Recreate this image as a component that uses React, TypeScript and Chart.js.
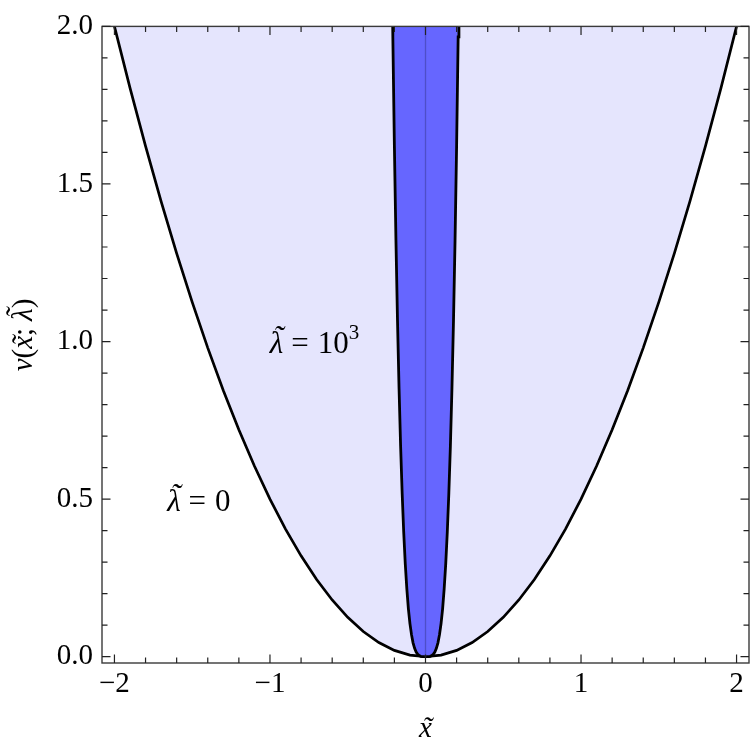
import React, { useEffect, useRef } from "react";
import { Chart, registerables } from "chart.js";

Chart.register(...registerables);

// ---- tick values ----
const xMajorTicks = [-2, -1, 0, 1, 2];
const yMajorTicks = [0, 0.5, 1.0, 1.5, 2.0];
const xMinorTicks = [-2.0, -1.8, -1.6, -1.4, -1.2, -1.0, -0.8, -0.6, -0.4, -0.2, 0, 0.2, 0.4, 0.6, 0.8, 1.0, 1.2, 1.4, 1.6, 1.8, 2.0];
const yMinorTicks = [0.1, 0.2, 0.3, 0.4, 0.6, 0.7, 0.8, 0.9, 1.1, 1.2, 1.3, 1.4, 1.6, 1.7, 1.8, 1.9];

// ---- series: lambda = 0 (outer curve) ----
const outerX = [-2.08, -2.0, -1.9, -1.8, -1.7, -1.6, -1.5, -1.4, -1.3, -1.2, -1.1, -1.0, -0.9, -0.8, -0.7, -0.6, -0.5, -0.4, -0.3, -0.2, -0.1, 0, 0.1, 0.2, 0.3, 0.4, 0.5, 0.6, 0.7, 0.8, 0.9, 1.0, 1.1, 1.2, 1.3, 1.4, 1.5, 1.6, 1.7, 1.8, 1.9, 2.0, 2.08];
const outerV = [2.163, 2.0, 1.805, 1.62, 1.445, 1.28, 1.125, 0.98, 0.845, 0.72, 0.605, 0.5, 0.405, 0.32, 0.245, 0.18, 0.125, 0.08, 0.045, 0.02, 0.005, 0, 0.005, 0.02, 0.045, 0.08, 0.125, 0.18, 0.245, 0.32, 0.405, 0.5, 0.605, 0.72, 0.845, 0.98, 1.125, 1.28, 1.445, 1.62, 1.805, 2.0, 2.163];

// ---- series: lambda = 10^3 (inner curve) ----
const innerX = [-0.215, -0.21, -0.2, -0.19, -0.18, -0.17, -0.16, -0.15, -0.14, -0.13, -0.12, -0.11, -0.1, -0.09, -0.08, -0.07, -0.06, -0.05, -0.04, -0.03, -0.02, -0.01, 0, 0.01, 0.02, 0.03, 0.04, 0.05, 0.06, 0.07, 0.08, 0.09, 0.1, 0.11, 0.12, 0.13, 0.14, 0.15, 0.16, 0.17, 0.18, 0.19, 0.2, 0.21, 0.215];
const innerV = [2.16, 1.967, 1.62, 1.321, 1.066, 0.85, 0.668, 0.518, 0.394, 0.294, 0.215, 0.152, 0.105, 0.07, 0.044, 0.0265, 0.0148, 0.0075, 0.0034, 0.0013, 0.0004, 0.0001, 0, 0.0001, 0.0004, 0.0013, 0.0034, 0.0075, 0.0148, 0.0265, 0.044, 0.07, 0.105, 0.152, 0.215, 0.294, 0.394, 0.518, 0.668, 0.85, 1.066, 1.321, 1.62, 1.967, 2.16];

// ---- centre line ----
const centerX = [0, 0];
const centerV = [0, 2.0];

const SERIF = "'Liberation Serif', 'DejaVu Serif', serif";

type Run = { t: string; f: string; dy?: number; tilde?: number; gap?: number; size?: number };

function drawRuns(ctx: CanvasRenderingContext2D, runs: Run[], cx: number, baseY: number) {
  let total = 0;
  for (const r of runs) {
    ctx.font = r.f;
    total += ctx.measureText(r.t).width + (r.gap || 0);
  }
  let x = cx - total / 2;
  ctx.textAlign = "left";
  ctx.textBaseline = "alphabetic";
  for (const r of runs) {
    ctx.font = r.f;
    const w = ctx.measureText(r.t).width;
    ctx.fillText(r.t, x, baseY + (r.dy || 0));
    if (r.tilde !== undefined) {
      const tw = ctx.measureText("\u02DC").width;
      ctx.fillText("\u02DC", x + w / 2 - tw / 2 + (r.size || 0) * 0.06, baseY + r.tilde);
    }
    x += w + (r.gap || 0);
  }
}

const framePlugin = {
  id: "frameTicks",
  afterDraw(chart: any) {
    const { ctx, chartArea: a, scales } = chart;
    const xs = scales.x;
    const ys = scales.y;
    ctx.save();
    ctx.strokeStyle = "#3a3a3a";
    ctx.lineWidth = 1.4;
    ctx.strokeRect(a.left, a.top, a.right - a.left, a.bottom - a.top);
    ctx.strokeStyle = "#222";
    ctx.lineWidth = 1.2;
    const MAJ = 8.5;
    const MIN = 5.5;
    ctx.beginPath();
    for (const v of xMinorTicks) {
      const len = xMajorTicks.includes(v) ? MAJ : MIN;
      const p = xs.getPixelForValue(v);
      ctx.moveTo(p, a.bottom);
      ctx.lineTo(p, a.bottom - len);
      ctx.moveTo(p, a.top);
      ctx.lineTo(p, a.top + len);
    }
    for (const v of [...yMajorTicks, ...yMinorTicks]) {
      const len = yMajorTicks.includes(v) ? MAJ : MIN;
      const p = ys.getPixelForValue(v);
      ctx.moveTo(a.left, p);
      ctx.lineTo(a.left + len, p);
      ctx.moveTo(a.right, p);
      ctx.lineTo(a.right - len, p);
    }
    ctx.stroke();

    ctx.fillStyle = "#000";
    const A = 31;
    // annotations
    drawRuns(
      ctx,
      [
        { t: "\u03BB", f: `italic ${A}px ${SERIF}`, tilde: -0.2 * A, size: A, gap: 8 },
        { t: "=", f: `${A}px ${SERIF}`, gap: 9 },
        { t: "10", f: `${A}px ${SERIF}` },
        { t: "3", f: `${Math.round(A * 0.68)}px ${SERIF}`, dy: -0.45 * A },
      ],
      xs.getPixelForValue(-0.714),
      ys.getPixelForValue(0.963)
    );
    drawRuns(
      ctx,
      [
        { t: "\u03BB", f: `italic ${A}px ${SERIF}`, tilde: -0.2 * A, size: A, gap: 8 },
        { t: "=", f: `${A}px ${SERIF}`, gap: 9 },
        { t: "0", f: `${A}px ${SERIF}` },
      ],
      xs.getPixelForValue(-1.457),
      ys.getPixelForValue(0.461)
    );
    const T = 29;
    // x axis title
    drawRuns(ctx, [{ t: "x", f: `italic ${T}px ${SERIF}`, tilde: 0, size: T }], (a.left + a.right) / 2, 737);
    // y axis title
    ctx.translate(32, 335);
    ctx.rotate(-Math.PI / 2);
    drawRuns(
      ctx,
      [
        { t: "v", f: `italic ${T}px ${SERIF}` },
        { t: "(", f: `${T}px ${SERIF}` },
        { t: "x", f: `italic ${T}px ${SERIF}`, tilde: 0, size: T },
        { t: ";", f: `${T}px ${SERIF}`, gap: 7 },
        { t: "\u03BB", f: `italic ${T}px ${SERIF}`, tilde: -0.2 * T, size: T },
        { t: ")", f: `${T}px ${SERIF}` },
      ],
      0,
      0
    );
    ctx.restore();
  },
};

function pts(xs: number[], vs: number[]) {
  return xs.map((x, i) => ({ x, y: vs[i] }));
}

export default function App() {
  const ref = useRef<HTMLCanvasElement | null>(null);
  useEffect(() => {
    if (!ref.current) return;
    const chart = new Chart(ref.current, {
      type: "line",
      data: {
        datasets: [
          {
            data: pts(centerX, centerV),
            borderColor: "rgb(78,78,200)",
            borderWidth: 1.3,
            pointRadius: 0,
            fill: false,
            clip: 0,
          } as any,
          {
            data: pts(innerX, innerV),
            borderColor: "#000",
            borderWidth: 2.8,
            pointRadius: 0,
            fill: "end",
            backgroundColor: "rgb(102,102,255)",
            clip: 0,
          },
          {
            data: pts(outerX, outerV),
            borderColor: "#000",
            borderWidth: 2.7,
            pointRadius: 0,
            fill: "end",
            backgroundColor: "rgb(229,229,253)",
            clip: 0,
          },
        ],
      },
      options: {
        animation: false,
        responsive: false,
        devicePixelRatio: 1,
        layout: { padding: { top: 14, right: 2, left: 0, bottom: 0 } },
        plugins: { legend: { display: false }, tooltip: { enabled: false } },
        scales: {
          x: {
            type: "linear",
            min: -2.08,
            max: 2.08,
            grid: { display: false, drawTicks: false },
            border: { display: false },
            afterFit: (s: any) => {
              s.height = 77;
            },
            afterBuildTicks: (s: any) => {
              s.ticks = xMajorTicks.map((v) => ({ value: v }));
            },
            ticks: {
              autoSkip: false,
              maxRotation: 0,
              padding: 4,
              color: "#000",
              font: { family: SERIF, size: 29 },
              callback: (v: any) => {
                const n = Number(v);
                return n < 0 ? "\u2212" + Math.abs(n) : String(n);
              },
            },
          },
          y: {
            type: "linear",
            min: -0.02,
            max: 2.0,
            grid: { display: false, drawTicks: false },
            border: { display: false },
            afterFit: (s: any) => {
              s.width = 102;
            },
            afterBuildTicks: (s: any) => {
              s.ticks = yMajorTicks.map((v) => ({ value: v }));
            },
            ticks: {
              autoSkip: false,
              padding: 9,
              color: "#000",
              font: { family: SERIF, size: 29 },
              callback: (v: any) => Number(v).toFixed(1),
            },
          },
        },
      },
      plugins: [framePlugin],
    });
    return () => chart.destroy();
  }, []);
  return (
    <div style={{ position: "fixed", left: 0, top: 0, width: 751, height: 740, background: "#fff" }}>
      <canvas ref={ref} width={751} height={740} style={{ width: 751, height: 740, display: "block" }} />
    </div>
  );
}
